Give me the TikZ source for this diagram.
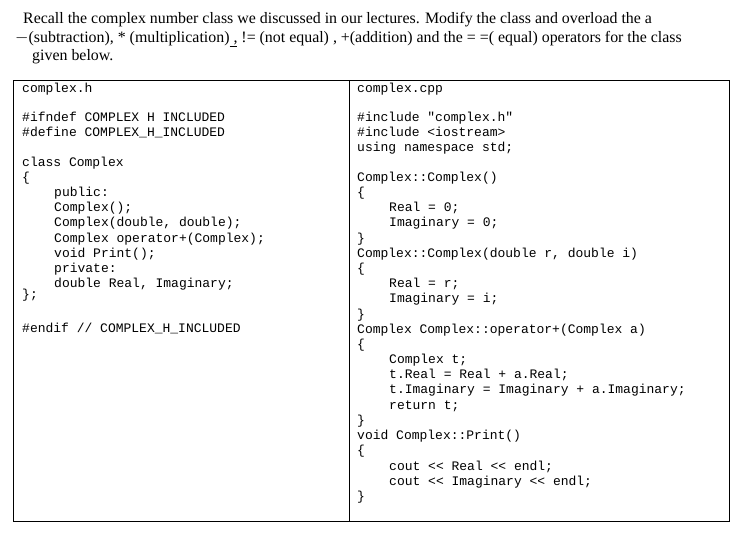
\documentclass[tikz,border=0pt]{standalone}
\usepackage{fontspec}
\setmainfont{Liberation Serif}
\setmonofont{Liberation Mono}
\begin{document}
\begin{tikzpicture}[x=1pt,y=-1pt,
  txt/.style={anchor=base west,inner sep=0pt,font=\fontsize{15.9}{18}\selectfont},
  code/.style={anchor=base west,inner sep=0pt,font=\ttfamily\fontsize{13}{15}\selectfont}]
\useasboundingbox[fill=white] (0,0) rectangle (746,544);
\node[txt] (t1) at (23,23) {Recall the complex number class we discussed in our lectures. Modify the class and overload the a};
\node[txt] (t2) at (15,42) {$-$(subtraction), * (multiplication)\underline{\ ,} != (not equal) , +(addition) and the = =( equal) operators for the class};
\node[txt] (t3) at (32,60) {given below.};
\draw[line width=0.8pt] (13,80) rectangle (729,521);
\draw[line width=0.8pt] (349,80) -- (349,521);
% left
\foreach \y/\s [count=\i] in {92/complex.h,121/\#ifndef COMPLEX H INCLUDED,136/\#define COMPLEX\_H\_INCLUDED,166/class Complex,181/\{,298/\};,332/{\#endif // COMPLEX\_H\_INCLUDED}}
  \node[code] (l\i) at (22,\y) {\s};
\foreach \y/\s [count=\i] in {196/public:,211/Complex();,226/{Complex(double, double);},242/Complex operator+(Complex);,257/void Print();,272/private:,287/{double Real, Imaginary;}}
  \node[code] (li\i) at (54,\y) {\s};
% right
\foreach \y/\s [count=\i] in {92/complex.cpp,121/\#include "complex.h",136/\#include <iostream>,151/using namespace std;,181/Complex::Complex(),196/\{,242/\},257/{Complex::Complex(double r, double i)},272/\{,318/\},333/Complex Complex::operator+(Complex a),348/\{,424/\},439/void Complex::Print(),454/\{,500/\}}
  \node[code] (r\i) at (357,\y) {\s};
\foreach \y/\s [count=\i] in {211/Real = 0;,226/Imaginary = 0;,287/Real = r;,302/Imaginary = i;,363/Complex t;,378/t.Real = Real + a.Real;,393/t.Imaginary = Imaginary + a.Imaginary;,409/return t;,470/cout << Real << endl;,485/cout << Imaginary << endl;}
  \node[code] (ri\i) at (389,\y) {\s};
\end{tikzpicture}
\end{document}
